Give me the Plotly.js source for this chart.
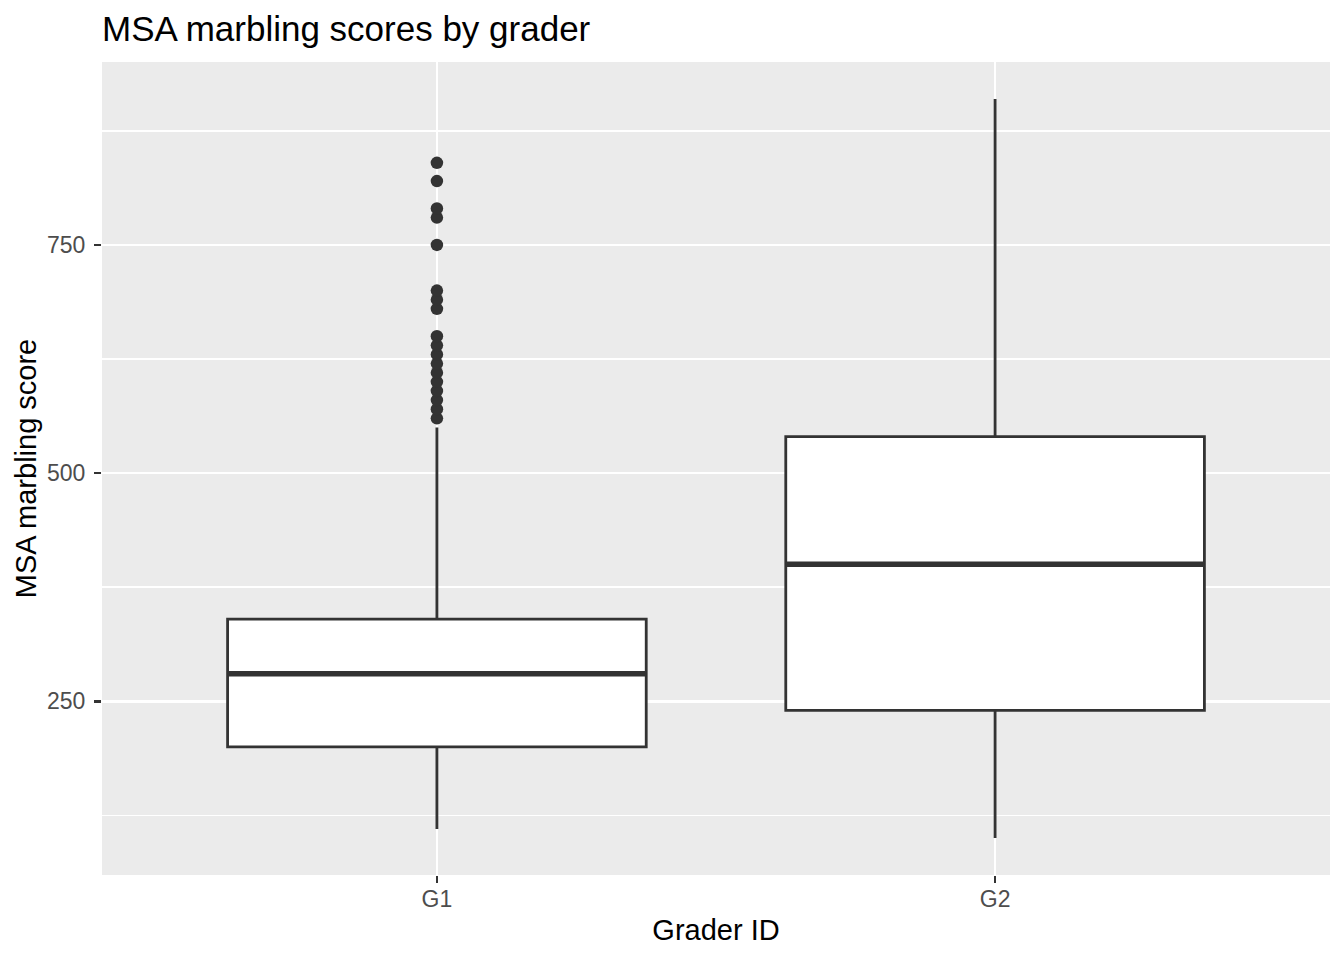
<!DOCTYPE html>
<html>
<head>
<meta charset="utf-8">
<script src="https://cdn.plot.ly/plotly-3.0.1.min.js"></script>
<style>
  html, body { margin: 0; padding: 0; background: #fff; }
  #chart { width: 1344px; height: 960px; }
</style>
</head>
<body>
<div id="chart"></div>
<script>
// ── datos del boxplot ──
const graders     = ['G1', 'G2'];
const lowerWhisk  = [110, 100];
const q1          = [200, 240];
const medians     = [280, 400];
const q3          = [340, 540];
const upperWhisk  = [550, 910];

// atípicos de G1
const outlierGrader = 'G1';
const outliers = [560, 570, 580, 590, 600, 610, 620, 630, 640, 650,
                  680, 690, 700, 750, 780, 790, 820, 840];

const FONT = 'Liberation Sans, Arial, Helvetica, sans-serif';
const INK  = '#333333';
const BOXW = 0.75;

const traces = [
    {
        type: 'box',
        x: graders,
        q1: q1,
        median: medians,
        q3: q3,
        lowerfence: lowerWhisk,
        upperfence: upperWhisk,
        width: BOXW,
        whiskerwidth: 0,
        boxpoints: false,
        fillcolor: '#ffffff',
        line: { color: INK, width: 2.8 },
        hoverinfo: 'skip',
        showlegend: false,
    },
    {
        type: 'scatter',
        mode: 'markers',
        x: outliers.map(() => outlierGrader),
        y: outliers,
        marker: { size: 12.5, color: INK },
        hoverinfo: 'skip',
        showlegend: false,
    },
];

// mediana más gruesa, como en ggplot (fatten = 2)
const medianShapes = medians.map((m, i) => ({
    type: 'line', xref: 'x', yref: 'y',
    x0: i - BOXW / 2, x1: i + BOXW / 2, y0: m, y1: m,
    line: { color: INK, width: 5.6 },
    layer: 'above',
}));

const layout = {
    width: 1344,
    height: 960,
    paper_bgcolor: '#ffffff',
    plot_bgcolor: '#EBEBEB',
    margin: { l: 102, r: 14, t: 62, b: 85 },
    font: { family: FONT, color: '#000000' },
    title: {
        text: 'MSA marbling scores by grader',
        font: { family: FONT, size: 35, color: '#000000' },
        xref: 'paper', x: 0, xanchor: 'left',
        yref: 'container', y: 1 - 29 / 960, yanchor: 'middle',
    },
    xaxis: {
        type: 'category',
        range: [-0.6, 1.6],
        showgrid: true, gridcolor: '#ffffff', gridwidth: 2.8,
        zeroline: false, showline: false,
        ticks: 'outside', ticklen: 7, tickwidth: 2.8, tickcolor: INK,
        ticklabelstandoff: -4,
        tickfont: { family: FONT, size: 23, color: '#4D4D4D' },
        title: { text: 'Grader ID', font: { family: FONT, size: 29, color: '#000000' }, standoff: 9 },
        fixedrange: true,
    },
    yaxis: {
        range: [59.5, 950.5],
        tickmode: 'linear', tick0: 0, dtick: 250,
        showgrid: true, gridcolor: '#ffffff', gridwidth: 2.8,
        minor: { tick0: 0, dtick: 125, showgrid: true, gridcolor: '#ffffff', gridwidth: 1.4, ticks: '' },
        zeroline: false, showline: false,
        ticks: 'outside', ticklen: 7, tickwidth: 2.8, tickcolor: INK,
        ticklabelstandoff: 4,
        tickfont: { family: FONT, size: 23, color: '#4D4D4D' },
        title: { text: 'MSA marbling score', font: { family: FONT, size: 29, color: '#000000' }, standoff: 1 },
        fixedrange: true,
    },
    shapes: medianShapes,
    showlegend: false,
};

Plotly.newPlot('chart', traces, layout, { staticPlot: true, displayModeBar: false });
</script>
</body>
</html>
